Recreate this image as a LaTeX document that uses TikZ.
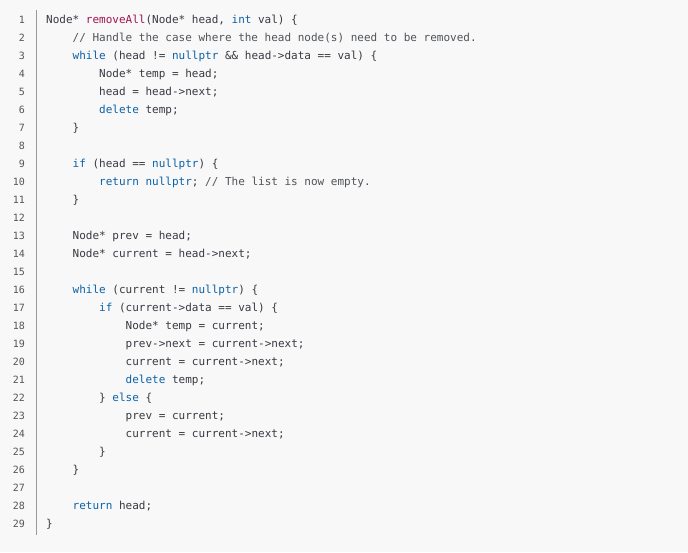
\documentclass[tikz,border=0pt]{standalone}
\usepackage{fontspec}
\newfontfamily\codefont{DejaVu Sans Mono}
\definecolor{bg}{HTML}{F8F8F8}
\definecolor{txt}{HTML}{383A42}
\definecolor{kw}{HTML}{0B62A8}
\definecolor{fn}{HTML}{A0154F}
\definecolor{cm}{HTML}{50545A}
\definecolor{num}{HTML}{555555}
\definecolor{rule}{HTML}{9A9A9A}
\newcommand{\K}[1]{\textcolor{kw}{#1}}
\begin{document}
\begin{tikzpicture}[x=1pt,y=-1pt,
  code/.style={anchor=base west,inner sep=0pt,font=\codefont\fontsize{11}{13}\selectfont,text=txt},
  lnum/.style={anchor=base east,inner sep=0pt,font=\codefont\fontsize{10}{12}\selectfont,text=num}]
\fill[bg] (0,0) rectangle (688,552);
\draw[rule,line width=0.8pt] (36,10) -- (36,535);
\foreach \i in {1,...,29} {
  \node[lnum] (n\i) at (25,{23+18*(\i-1)}) {\i};
}
\newcommand{\codeln}[3]{\node[code] (c#1) at ({46+26.5*#2},{23+18*(#1-1)}) {#3};}
\codeln{1}{0}{Node* \textcolor{fn}{removeAll}(Node* head, \K{int} val) \{}
\codeln{2}{1}{\textcolor{cm}{// Handle the case where the head node(s) need to be removed.}}
\codeln{3}{1}{\K{while} (head != \K{nullptr} \&\& head->data == val) \{}
\codeln{4}{2}{Node* temp = head;}
\codeln{5}{2}{head = head->next;}
\codeln{6}{2}{\K{delete} temp;}
\codeln{7}{1}{\}}
\codeln{9}{1}{\K{if} (head == \K{nullptr}) \{}
\codeln{10}{2}{\K{return} \K{nullptr}; \textcolor{cm}{// The list is now empty.}}
\codeln{11}{1}{\}}
\codeln{13}{1}{Node* prev = head;}
\codeln{14}{1}{Node* current = head->next;}
\codeln{16}{1}{\K{while} (current != \K{nullptr}) \{}
\codeln{17}{2}{\K{if} (current->data == val) \{}
\codeln{18}{3}{Node* temp = current;}
\codeln{19}{3}{prev->next = current->next;}
\codeln{20}{3}{current = current->next;}
\codeln{21}{3}{\K{delete} temp;}
\codeln{22}{2}{\} \K{else} \{}
\codeln{23}{3}{prev = current;}
\codeln{24}{3}{current = current->next;}
\codeln{25}{2}{\}}
\codeln{26}{1}{\}}
\codeln{28}{1}{\K{return} head;}
\codeln{29}{0}{\}}
\end{tikzpicture}
\end{document}
